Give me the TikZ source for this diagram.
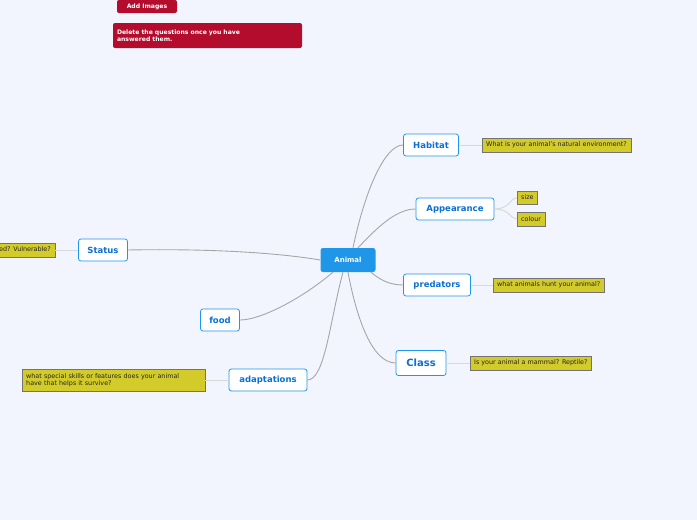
\documentclass[tikz,border=0pt]{standalone}
\usepackage{fontspec}
\setmainfont{DejaVu Sans}
\definecolor{bg}{HTML}{F2F5FE}
\definecolor{blu}{HTML}{1F96E8}
\definecolor{tblu}{HTML}{0B6FD6}
\definecolor{ylw}{HTML}{D2CB2A}
\definecolor{redb}{HTML}{B30C2C}
\begin{document}
\begin{tikzpicture}[x=1pt,y=-1pt,
 topic/.style={draw=blu,fill=white,rounded corners=2.5pt,text=tblu,font=\bfseries\fontsize{8.5}{10}\selectfont,inner sep=0pt,line width=0.8pt},
 note/.style={draw=black!55,fill=ylw,font=\fontsize{6.4}{7.4}\selectfont,inner ysep=0pt,inner xsep=4pt,align=left,text=black!85},
 redbox/.style={fill=redb,rounded corners=2pt,text=white,font=\bfseries\fontsize{6.1}{7}\selectfont,align=left,inner sep=0pt},
 br/.style={draw=black!35,line width=0.9pt},
 nl/.style={draw=black!15,line width=1pt}]
\fill[bg] (0,0) rectangle (697,520);
\useasboundingbox (0,0) rectangle (697,520);
\node[redbox,minimum width=60,minimum height=13] (ai) at (147,6.5) {Add Images};
\node[redbox,minimum width=189,minimum height=25,text width=181] (del) at (207.5,35.5) {Delete the questions once you have\\answered them.};
\node[fill=blu,rounded corners=2.5pt,text=white,font=\bfseries\fontsize{7}{8}\selectfont,minimum width=55,minimum height=24,inner sep=0pt] (an) at (348,260) {Animal};
\node[topic,minimum width=55,minimum height=22] (hab) at (431,145) {Habitat};
\node[topic,minimum width=78,minimum height=22] (app) at (455,209) {Appearance};
\node[topic,minimum width=67,minimum height=22] (pre) at (437,285) {predators};
\node[topic,minimum width=50,minimum height=25,font=\bfseries\fontsize{10}{12}\selectfont] (cla) at (421,363) {Class};
\node[topic,minimum width=49,minimum height=22] (sta) at (103,250) {Status};
\node[topic,minimum width=39,minimum height=22] (foo) at (220,320) {food};
\node[topic,minimum width=78,minimum height=22] (ada) at (268,380) {adaptations};
\node[note,minimum height=14,anchor=west] (nh) at (482,145) {What is your animal's natural environment?};
\node[note,minimum height=13,anchor=west] (ns) at (517,197.5) {size};
\node[note,minimum height=14,anchor=west] (nc) at (517,219) {colour};
\node[note,minimum height=14,anchor=west] (np) at (493,285) {what animals hunt your animal?};
\node[note,minimum height=14,anchor=west] (ncl) at (470,363) {Is your animal a mammal? Reptile?};
\node[note,minimum height=14,anchor=east] (nst) at (55,250) {Is your animal endangered? Vulnerable?};
\node[note,minimum height=22,text width=175,anchor=west] (nad) at (22,380) {what special skills or features does your animal\\have that helps it survive?};
\draw[br] (an.north) ++(5,0) .. controls (365,190) and (385,145) .. (hab.west);
\draw[br] (an.north) ++(10,0) .. controls (375,230) and (395,209) .. (app.west);
\draw[br] (an.east) ++(-5,12) .. controls (380,280) and (390,285) .. (pre.west);
\draw[br] (an.south) ++(0,0) .. controls (355,310) and (370,363) .. (cla.west);
\draw[br] (an.west) .. controls (260,250) and (180,249) .. (sta.east);
\draw[br] (an.south) ++(-15,0) .. controls (300,300) and (260,320) .. (foo.east);
\draw[br] (an.south) ++(-5,0) .. controls (330,320) and (325,380) .. (ada.east);
\draw[nl] (hab.east) -- (nh.west);
\draw[nl] (app.east) .. controls (510,209) and (510,198) .. (ns.west);
\draw[nl] (app.east) .. controls (510,209) and (510,219) .. (nc.west);
\draw[nl] (pre.east) -- (np.west);
\draw[nl] (cla.east) -- (ncl.west);
\draw[nl] (sta.west) -- (nst.east);
\draw[nl] (ada.west) -- (nad.east);
\end{tikzpicture}
\end{document}
